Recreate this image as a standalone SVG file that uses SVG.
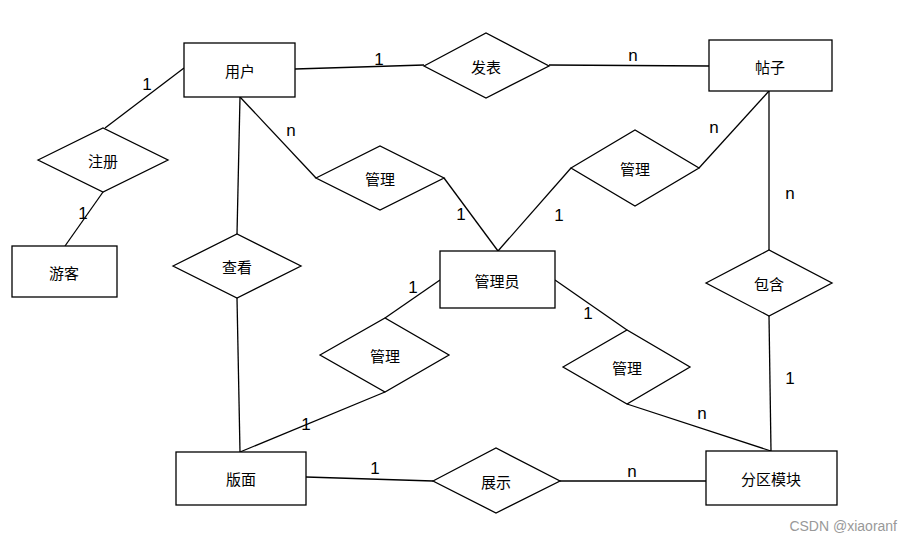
<svg xmlns="http://www.w3.org/2000/svg" width="902" height="542" viewBox="0 0 902 542">
<style>
.s{fill:#fff;stroke:#000;stroke-width:1.3}
.t{font-family:"Noto Sans CJK SC","Liberation Sans",sans-serif;font-size:15px;text-anchor:middle;dominant-baseline:central}
.l{font-family:"Liberation Sans",sans-serif;font-size:17px;text-anchor:middle;dominant-baseline:central}
line{stroke:#000;stroke-width:1.3}
</style>
<rect width="902" height="542" fill="#fff"/>
<g id="connectors">
<line x1="184" y1="68" x2="105" y2="128"/>
<line x1="103" y1="192" x2="65" y2="246"/>
<line x1="295" y1="69" x2="424" y2="65"/>
<line x1="549" y1="65" x2="709" y2="66"/>
<line x1="240" y1="97" x2="316" y2="178"/>
<line x1="444" y1="178" x2="498" y2="251"/>
<line x1="498" y1="251" x2="571" y2="168"/>
<line x1="699" y1="168" x2="769" y2="91"/>
<line x1="240" y1="97" x2="237" y2="234"/>
<line x1="237" y1="298" x2="240" y2="452"/>
<line x1="769" y1="91" x2="769" y2="250"/>
<line x1="769" y1="316" x2="771" y2="451"/>
<line x1="440" y1="280" x2="385" y2="318"/>
<line x1="385" y1="392" x2="240" y2="452"/>
<line x1="555" y1="280" x2="627" y2="330"/>
<line x1="627" y1="404" x2="771" y2="451"/>
<line x1="306" y1="477" x2="433" y2="481"/>
<line x1="560" y1="481" x2="706" y2="481"/>
</g>
<g id="labels">
<text class="l" x="147" y="84">1</text>
<text class="l" x="83" y="213">1</text>
<text class="l" x="379" y="59">1</text>
<text class="l" x="633" y="55">n</text>
<text class="l" x="291" y="130">n</text>
<text class="l" x="461" y="214">1</text>
<text class="l" x="559" y="215">1</text>
<text class="l" x="714" y="127">n</text>
<text class="l" x="790" y="193">n</text>
<text class="l" x="790" y="378">1</text>
<text class="l" x="413" y="287">1</text>
<text class="l" x="306" y="424">1</text>
<text class="l" x="588" y="313">1</text>
<text class="l" x="702" y="413">n</text>
<text class="l" x="375" y="468">1</text>
<text class="l" x="632" y="471">n</text>
</g>
<g id="n-user"><rect class="s" x="184" y="43" width="111" height="54"/><text class="t" x="240" y="70">用户</text></g>
<g id="n-post"><rect class="s" x="709" y="40" width="123" height="51"/><text class="t" x="770" y="66">帖子</text></g>
<g id="n-guest"><rect class="s" x="12" y="246" width="105" height="51"/><text class="t" x="64" y="272">游客</text></g>
<g id="n-admin"><rect class="s" x="440" y="251" width="115" height="57"/><text class="t" x="497" y="280">管理员</text></g>
<g id="n-board"><rect class="s" x="176" y="452" width="130" height="53"/><text class="t" x="241" y="478">版面</text></g>
<g id="n-section"><rect class="s" x="706" y="451" width="131" height="54"/><text class="t" x="771" y="478">分区模块</text></g>
<g id="d-reg"><polygon class="s" points="38,160 103,128 168,160 103,192"/><text class="t" x="103" y="160">注册</text></g>
<g id="d-publish"><polygon class="s" points="424,66 486,33 549,66 486,98"/><text class="t" x="486" y="66">发表</text></g>
<g id="d-m1"><polygon class="s" points="316,178 380,146 444,178 380,210"/><text class="t" x="380" y="178">管理</text></g>
<g id="d-m2"><polygon class="s" points="571,168 635,130 699,168 635,206"/><text class="t" x="635" y="168">管理</text></g>
<g id="d-view"><polygon class="s" points="173,266 237,234 301,266 237,298"/><text class="t" x="237" y="266">查看</text></g>
<g id="d-contain"><polygon class="s" points="706,283 769,250 832,283 769,316"/><text class="t" x="769" y="283">包含</text></g>
<g id="d-m3"><polygon class="s" points="320,355 385,318 449,355 385,392"/><text class="t" x="385" y="355">管理</text></g>
<g id="d-m4"><polygon class="s" points="563,367 627,330 690,367 627,404"/><text class="t" x="627" y="367">管理</text></g>
<g id="d-show"><polygon class="s" points="433,481 496,448 560,481 496,513"/><text class="t" x="496" y="481">展示</text></g>
<text x="897" y="531" font-family="Liberation Sans,sans-serif" font-size="14" fill="#999" text-anchor="end">CSDN @xiaoranf</text>
</svg>
